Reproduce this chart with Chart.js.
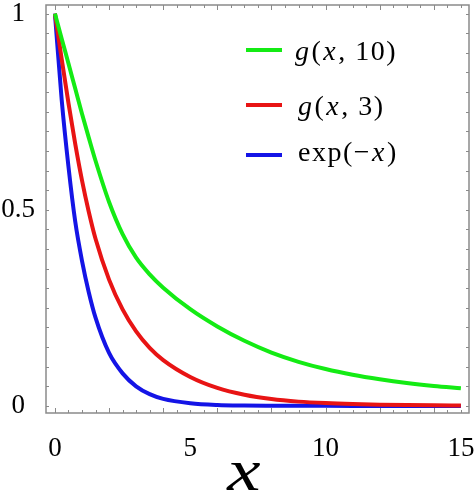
<!DOCTYPE html>
<html>
<head>
<meta charset="utf-8">
<script src="https://cdn.jsdelivr.net/npm/chart.js@4.4.1/dist/chart.umd.min.js"></script>
<style>
  html, body { margin: 0; padding: 0; background: #fff; }
</style>
</head>
<body>
<canvas id="chart" width="474" height="495"></canvas>
<script>
// values
const xValues = [0, 0.25, 0.5, 0.75, 1, 1.25, 1.5, 2, 2.5, 3, 3.5, 4, 5, 6, 7, 8, 9, 10, 11, 12, 13, 14, 15];
const g10 = [1, 0.936, 0.873, 0.809, 0.745, 0.684, 0.625, 0.52, 0.438, 0.378, 0.3355, 0.3015, 0.2465, 0.2025, 0.166, 0.136, 0.1125, 0.094, 0.0795, 0.068, 0.0585, 0.051, 0.045];
const g3 = [1, 0.884, 0.772, 0.668, 0.575, 0.495, 0.426, 0.322, 0.246, 0.19, 0.148, 0.117, 0.074, 0.046, 0.0285, 0.0175, 0.011, 0.0072, 0.0048, 0.0033, 0.0023, 0.0016, 0.0011];
const expNeg = [1, 0.78, 0.61, 0.47, 0.37, 0.29, 0.225, 0.135, 0.083, 0.05, 0.03, 0.018, 0.007, 0.0025, 0.001, 0.0005, 0.0003, 0.0002, 0.0001, 0, 0, 0, 0];

const xTicks = [0, 5, 10, 15];
const yTicks = [0, 0.5, 1];
const yTickLabels = ["0", "0.5", "1"];
const xTitle = "x";

// legend text pieces: [text, italic]
const legendLabels = [
  [["g", true], ["(", false], ["x", true], [", 10)", false]],
  [["g", true], ["(", false], ["x", true], [", 3)", false]],
  [["exp(\u2212", false], ["x", true], [")", false]],
];

const GREEN = "rgb(20,235,20)";
const RED = "rgb(232,20,20)";
const BLUE = "rgb(20,20,230)";
const SERIF = "'Liberation Serif', serif";

const toPoints = (ys) => xValues.map((x, i) => ({ x, y: ys[i] }));

const frameTicks = {
  id: "frameTicks",
  beforeDatasetsDraw(chart) {
    const { ctx, chartArea: a, scales } = chart;
    const xs = scales.x, ys = scales.y;
    ctx.save();
    ctx.strokeStyle = "#8a8a8a";
    ctx.lineWidth = 1;
    for (let v = 0; v <= 15.001; v += 0.5) {
      const px = Math.round(xs.getPixelForValue(v)) + 0.5;
      const len = Math.abs(v % 2) < 0.01 ? 5 : 3;
      ctx.beginPath();
      ctx.moveTo(px, a.bottom); ctx.lineTo(px, a.bottom - len);
      ctx.moveTo(px, a.top); ctx.lineTo(px, a.top + len);
      ctx.stroke();
    }
    for (let v = 0; v <= 1.0001; v += 0.05) {
      const py = Math.round(ys.getPixelForValue(v)) + 0.5;
      ctx.beginPath();
      ctx.moveTo(a.left, py); ctx.lineTo(a.left + 3, py);
      ctx.moveTo(a.right, py); ctx.lineTo(a.right - 3, py);
      ctx.stroke();
    }
    ctx.lineWidth = 1.5;
    ctx.strokeRect(a.left, a.top, a.right - a.left, a.bottom - a.top);
    ctx.restore();
  },
};

const mathLegend = {
  id: "mathLegend",
  afterDatasetsDraw(chart) {
    const { ctx } = chart;
    const rows = [
      { lineY: 50, textY: 53, textX: 295 },
      { lineY: 105, textY: 108, textX: 298 },
      { lineY: 155, textY: 154, textX: 298 },
    ];
    ctx.save();
    chart.data.datasets.forEach((ds, i) => {
      const r = rows[i];
      ctx.strokeStyle = ds.borderColor;
      ctx.lineWidth = 4;
      ctx.beginPath();
      ctx.moveTo(246, r.lineY);
      ctx.lineTo(282, r.lineY);
      ctx.stroke();
      let x = r.textX;
      ctx.fillStyle = "#000";
      ctx.textBaseline = "middle";
      ctx.letterSpacing = "1.5px";
      legendLabels[i].forEach(([text, italic]) => {
        ctx.font = (italic ? "italic " : "") + "28px " + SERIF;
        ctx.fillText(text, x, r.textY);
        x += ctx.measureText(text).width + 1;
      });
    });
    ctx.restore();

    // axis title, a bit left of centre like the original, widened a little
    ctx.save();
    ctx.fillStyle = "#000";
    ctx.font = "italic 60px " + SERIF;
    ctx.textAlign = "center";
    ctx.textBaseline = "alphabetic";
    ctx.translate(244, 490);
    ctx.scale(1.25, 1);
    ctx.fillText(xTitle, 0, 0);
    ctx.restore();
  },
};

new Chart(document.getElementById("chart"), {
  type: "line",
  data: {
    datasets: [
      { label: "g(x, 10)", data: toPoints(g10), borderColor: GREEN },
      { label: "g(x, 3)", data: toPoints(g3), borderColor: RED },
      { label: "exp(-x)", data: toPoints(expNeg), borderColor: BLUE },
    ],
  },
  options: {
    responsive: false,
    animation: false,
    layout: { padding: { top: 5, right: 5, left: 0, bottom: 0 } },
    elements: {
      line: { borderWidth: 4, cubicInterpolationMode: "monotone", fill: false },
      point: { radius: 0 },
    },
    plugins: { legend: { display: false }, tooltip: { enabled: false } },
    scales: {
      x: {
        type: "linear",
        min: -0.33,
        max: 15.3,
        afterBuildTicks: (s) => { s.ticks = xTicks.map((value) => ({ value })); },
        afterFit: (s) => { s.height = 82; s.paddingLeft = 0; s.paddingRight = 0; },
        grid: { display: false },
        border: { display: false },
        ticks: {
          color: "#000",
          padding: 12,
          maxRotation: 0,
          autoSkip: false,
          font: { family: SERIF, size: 27 },
          callback: (v) => String(v),
        },
      },
      y: {
        min: -0.018,
        max: 1.022,
        afterBuildTicks: (s) => { s.ticks = yTicks.map((value) => ({ value })); },
        afterFit: (s) => { s.width = 46; s.paddingTop = 0; s.paddingBottom = 0; },
        grid: { display: false },
        border: { display: false },
        ticks: {
          color: "#000",
          padding: 3,
          crossAlign: "center",
          font: { family: SERIF, size: 27 },
          callback: (v) => yTickLabels[yTicks.indexOf(v)],
        },
      },
    },
  },
  plugins: [frameTicks, mathLegend],
});
</script>
</body>
</html>
